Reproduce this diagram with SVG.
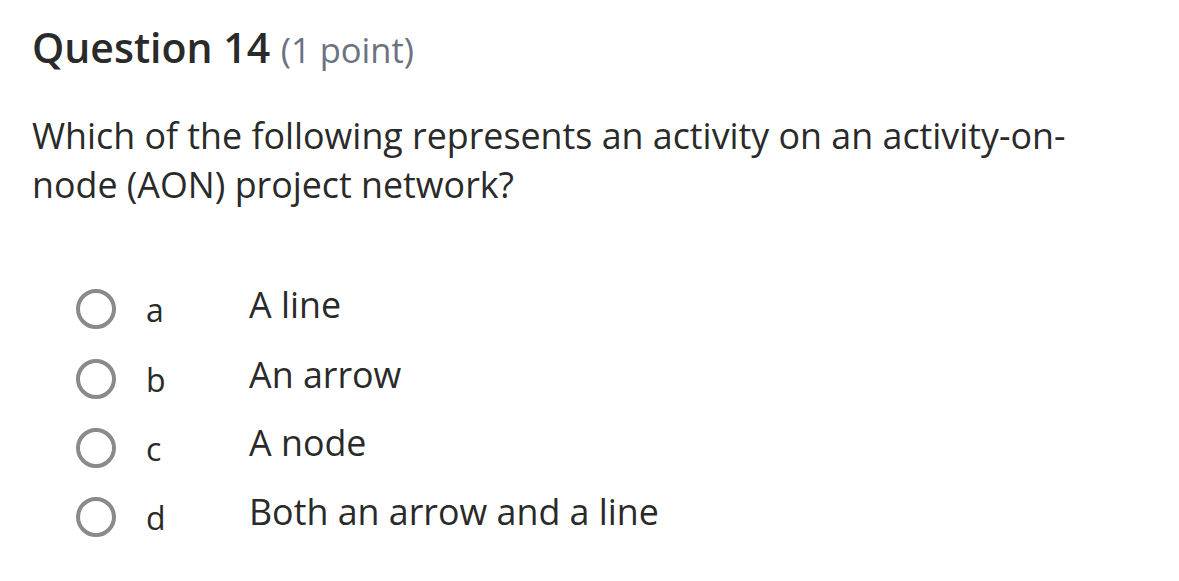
<svg xmlns="http://www.w3.org/2000/svg" width="1179" height="581" viewBox="0 0 1179 581">
<style>
text{font-family:"Open Sans","Liberation Sans",sans-serif;fill:#2a2a2a}
.r{fill:none;stroke:#8a8a8a;stroke-width:4}
.l{font-size:32px}
.a{font-size:35.8px}
</style>
<rect width="1179" height="581" fill="#fff"/>
<text x="32" y="63" font-size="41" font-weight="600">Question 14 <tspan font-size="34.5" font-weight="400" fill="#6b7280">(1 point)</tspan></text>
<text x="32" y="149" font-size="35.8">Which of the following represents an activity on an activity-on-</text>
<text x="32" y="198" font-size="35.8">node (AON) project network?</text>
<g id="opt-a"><circle class="r" cx="96" cy="309" r="18"/><text class="l" x="146" y="322">a</text><text class="a" x="249" y="318">A line</text></g>
<g id="opt-b"><circle class="r" cx="96" cy="379" r="18"/><text class="l" x="146" y="392">b</text><text class="a" x="249" y="388">An arrow</text></g>
<g id="opt-c"><circle class="r" cx="96" cy="448" r="18"/><text class="l" x="146" y="461">c</text><text class="a" x="249" y="456">A node</text></g>
<g id="opt-d"><circle class="r" cx="96" cy="517" r="18"/><text class="l" x="146" y="530">d</text><text class="a" x="249" y="525">Both an arrow and a line</text></g>
</svg>
